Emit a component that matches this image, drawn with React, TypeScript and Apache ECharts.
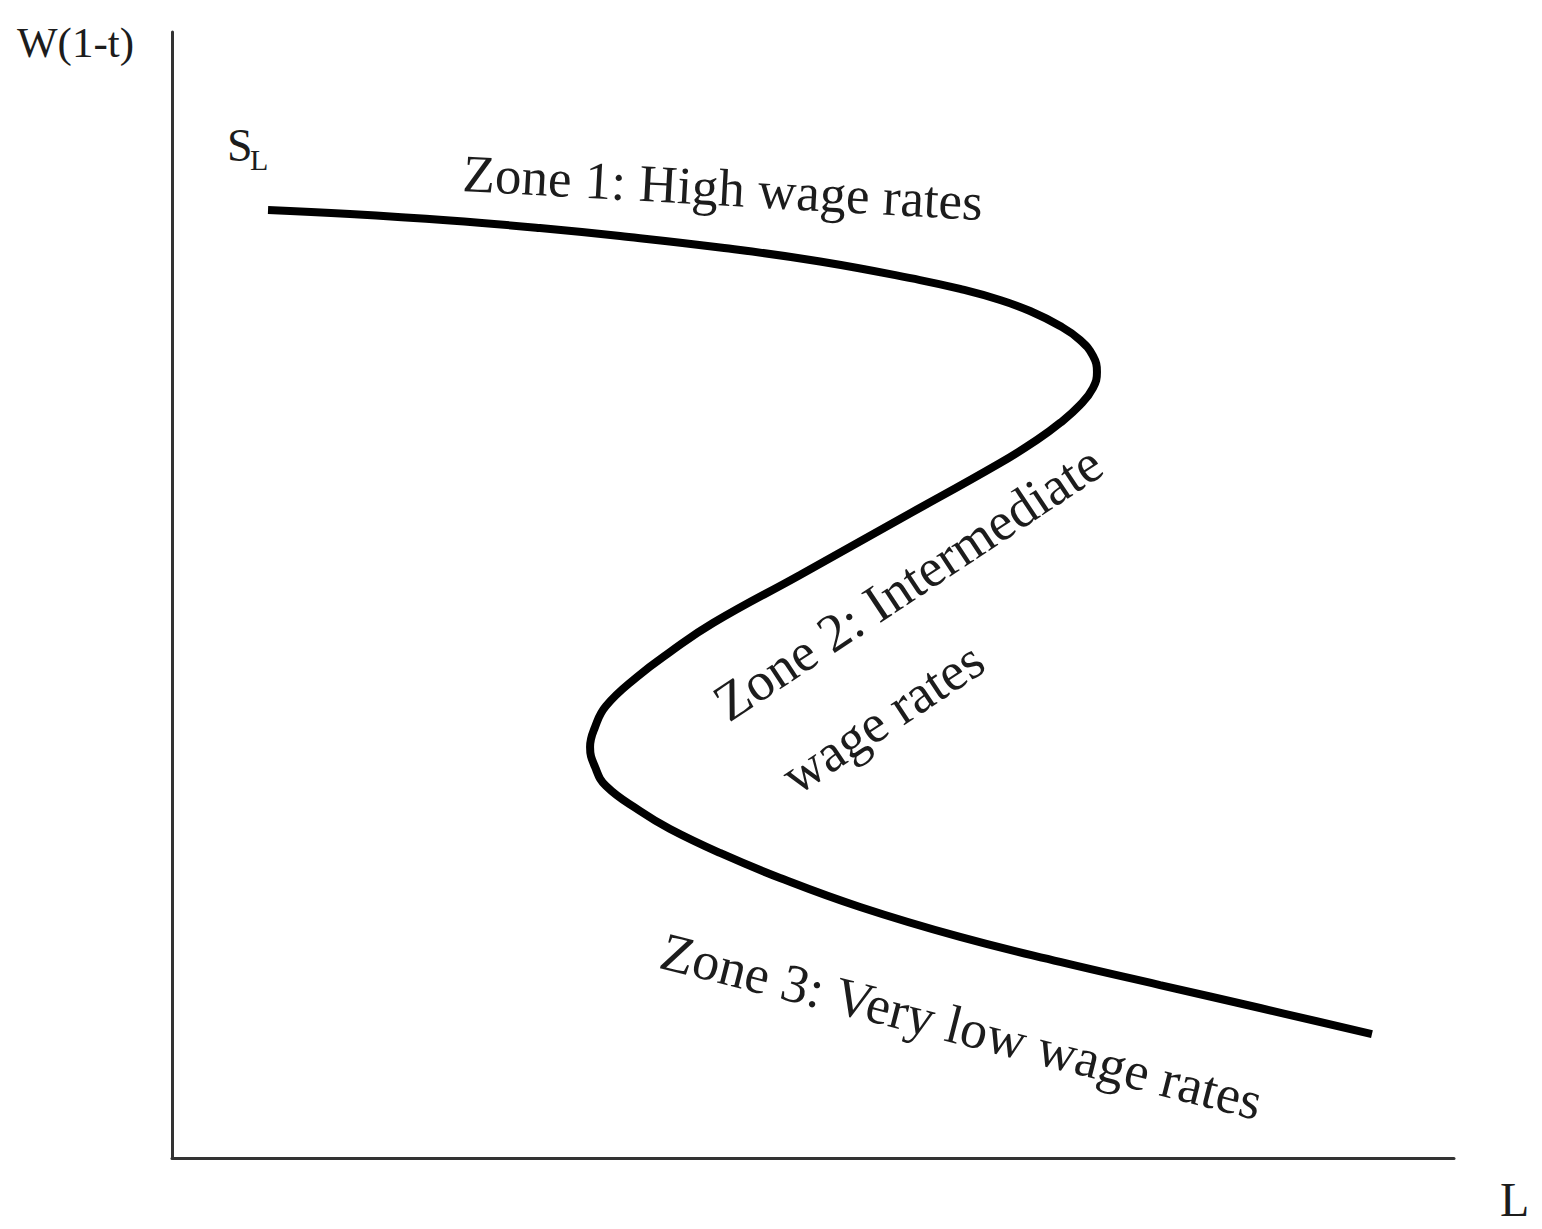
import React, { useEffect, useRef } from "react";
import * as echarts from "echarts";

// Labour supply curve S_L (L on x, W(1-t) on y)
const laborValues = [
  7.49, 13.88, 21.68, 28.7, 34.95, 42.75, 50.55, 58.35, 61.47, 64.59, 66.93,
  69.27, 70.83, 71.84, 72.15, 71.84, 70.83, 69.27, 67.47, 64.59, 56.79, 48.99,
  42.2, 38.85, 36.27, 33.85, 33.0, 32.61, 33.0, 33.85, 36.51, 38.85, 42.75,
  47.43, 53.67, 61.47, 69.27, 77.07, 84.87, 93.6,
];
const wageValues = [
  84.19, 83.84, 83.26, 82.59, 81.88, 80.86, 79.62, 77.97, 77.18, 76.2, 75.22,
  73.89, 72.65, 71.23, 69.8, 68.38, 66.87, 65.28, 63.77, 61.72, 56.75, 51.78,
  47.51, 44.94, 42.72, 40.14, 38.28, 36.5, 34.72, 33.04, 30.82, 29.22, 27.09,
  24.87, 22.29, 19.63, 17.41, 15.36, 13.32, 11.01,
];

const yAxisTitle = "W(1-t)";
const xAxisTitle = "L";
const curveName = "S";
const curveSub = "L";
const zone1 = "Zone 1: High wage rates";
const zone2a = "Zone 2: Intermediate";
const zone2b = "wage rates";
const zone3 = "Zone 3: Very low wage rates";

const FONT = "'Liberation Serif', 'Times New Roman', serif";
const INK = "#1c1c1c";

function txt(text: string, x: number, y: number, size: number, rotation = 0) {
  return {
    type: "text",
    x,
    y,
    rotation,
    style: {
      text,
      fontSize: size,
      fontFamily: FONT,
      fill: INK,
      align: "left",
      verticalAlign: "middle",
    },
  };
}

export default function App() {
  const ref = useRef<HTMLDivElement>(null);
  useEffect(() => {
    if (!ref.current) return;
    document.body.style.margin = "0";
    const chart = echarts.init(ref.current, undefined, { renderer: "svg" });
    const data = laborValues.map((x, i) => [x, wageValues[i]]);
    chart.setOption({
      animation: false,
      backgroundColor: "#ffffff",
      grid: { left: 172, right: 88, top: 32, bottom: 71 },
      xAxis: {
        type: "value",
        min: 0,
        max: 100,
        axisLine: { show: true, lineStyle: { color: "#333", width: 3 } },
        axisTick: { show: false },
        axisLabel: { show: false },
        splitLine: { show: false },
      },
      yAxis: {
        type: "value",
        min: 0,
        max: 100,
        axisLine: { show: true, lineStyle: { color: "#333", width: 3 } },
        axisTick: { show: false },
        axisLabel: { show: false },
        splitLine: { show: false },
      },
      series: [
        {
          type: "line",
          data,
          smooth: 0.45,
          symbol: "none",
          lineStyle: { color: "#000", width: 8 },
        },
      ],
      graphic: [
        txt(yAxisTitle, 17, 42, 43),
        txt(xAxisTitle, 1500, 1199, 48),
        txt(curveName, 227, 145, 46),
        txt(curveSub, 250, 159, 30),
        txt(zone1, 463, 173, 53, -0.056),
        txt(zone2a, 719, 708, 54, 0.585),
        txt(zone2b, 787, 781, 54, 0.585),
        txt(zone3, 662, 950, 54, -0.25),
      ],
    });
    return () => chart.dispose();
  }, []);
  return (
    <div
      ref={ref}
      style={{ position: "absolute", left: 0, top: 0, width: 1542, height: 1229 }}
    />
  );
}
